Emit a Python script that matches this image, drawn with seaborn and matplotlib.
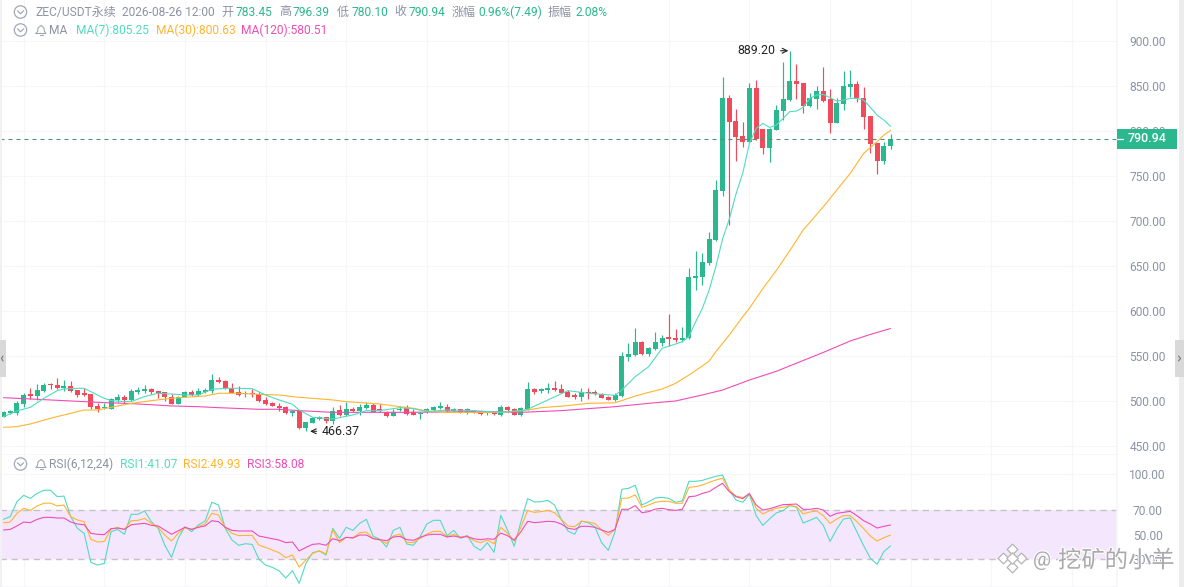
# -*- coding: utf-8 -*-
import matplotlib
matplotlib.use('Agg')
import matplotlib.pyplot as plt
import matplotlib.patheffects as pe
from matplotlib.patches import Circle, Rectangle
import numpy as np
import seaborn as sns

# Candles
opens = [482.6, 487.1, 487.1, 496.7, 507.8, 505.6, 511.2, 519.3, 517.8, 514.9, 516.7, 512.3, 508.9, 507.8, 494.5, 491.9, 491.2, 501.2, 504.9, 501.2,
         510.4, 511.5, 513.7, 511.2, 509.7, 504.1, 497.1, 504.9, 510.0, 506.3, 510.4, 511.5, 523.4, 522.3, 514.1, 509.7, 507.4, 508.9, 507.4, 501.2,
         498.2, 494.5, 493.4, 487.1, 489.3, 469.7, 476.0, 480.0, 481.9, 478.2, 490.0, 484.9, 490.8, 488.9, 492.6, 495.6, 490.8, 487.8, 483.7, 489.7,
         491.9, 488.2, 485.6, 487.4, 490.0, 492.6, 493.7, 488.9, 490.8, 488.2, 489.3, 487.8, 486.7, 487.8, 484.9, 493.4, 490.8, 484.9, 491.2, 513.4,
         511.5, 512.6, 514.5, 513.0, 510.0, 507.1, 504.9, 509.7, 510.0, 507.8, 504.9, 501.5, 505.9, 549.2, 551.1, 565.5, 552.2, 557.8, 564.8, 570.7,
         570.0, 568.1, 569.6, 637.0, 638.1, 653.7, 678.9, 733.7, 836.6, 811.1, 794.4, 788.1, 847.8, 802.2, 781.4, 801.4, 822.6, 834.4, 855.5, 853.7,
         827.7, 835.5, 844.4, 835.2, 809.2, 830.3, 849.2, 852.2, 836.6, 816.6, 786.3, 767.0, 783.45]
closes = [488.2, 488.9, 498.2, 506.7, 506.0, 512.3, 517.8, 517.4, 514.5, 516.7, 511.5, 507.1, 506.7, 493.4, 490.8, 493.4, 501.9, 504.9, 501.2, 511.2,
          512.3, 513.4, 510.4, 508.6, 504.1, 497.1, 504.1, 510.0, 507.1, 511.2, 512.3, 523.4, 521.5, 514.1, 509.3, 507.1, 508.6, 507.8, 500.4, 496.7,
          494.9, 492.6, 487.1, 488.9, 469.7, 476.3, 480.8, 482.6, 477.8, 489.3, 484.5, 490.8, 488.6, 493.7, 495.6, 488.2, 490.0, 483.7, 488.2, 491.5,
          485.2, 484.9, 487.1, 490.8, 493.4, 494.5, 488.9, 490.8, 487.8, 490.8, 487.8, 486.0, 487.8, 485.2, 493.4, 490.0, 484.9, 492.3, 513.0, 510.4,
          513.4, 514.5, 511.9, 509.3, 504.9, 504.9, 509.7, 508.6, 507.8, 503.7, 501.5, 506.7, 550.0, 552.2, 565.5, 552.2, 558.9, 565.5, 570.0, 568.9,
          567.8, 570.0, 637.8, 638.9, 654.1, 680.0, 734.4, 836.6, 810.3, 793.7, 788.1, 847.8, 790.7, 781.4, 802.2, 823.3, 835.5, 855.5, 852.2, 827.7,
          836.6, 844.4, 833.3, 809.2, 831.1, 850.0, 852.2, 836.3, 815.9, 785.5, 767.0, 783.3, 790.94]
highs = [489.0, 490.0, 500.4, 509.3, 514.1, 518.9, 520.4, 520.4, 525.6, 523.4, 521.9, 512.3, 514.5, 507.8, 498.2, 498.2, 503.0, 507.8, 507.1, 513.0,
         516.0, 517.4, 514.5, 511.5, 510.0, 507.8, 505.6, 511.5, 512.3, 514.5, 514.1, 530.0, 527.1, 523.4, 520.4, 516.7, 511.5, 513.0, 510.4, 504.1,
         498.9, 498.2, 494.5, 490.0, 490.0, 477.1, 481.9, 483.7, 482.6, 493.0, 495.6, 498.9, 493.7, 496.7, 498.9, 497.4, 496.3, 488.9, 491.5, 494.5,
         495.6, 490.8, 488.2, 492.6, 494.5, 498.6, 496.3, 492.3, 491.5, 491.9, 490.0, 488.9, 488.9, 489.3, 495.2, 494.9, 491.9, 493.7, 520.8, 514.1,
         514.1, 519.7, 522.6, 518.9, 512.3, 508.6, 514.1, 514.1, 512.3, 509.3, 506.0, 508.6, 554.8, 564.8, 581.5, 566.7, 560.4, 576.3, 573.0, 596.3,
         580.0, 582.6, 647.4, 667.0, 664.1, 688.1, 745.5, 860.0, 840.0, 824.0, 809.6, 852.9, 856.6, 802.2, 803.7, 828.9, 876.6, 889.2, 874.0, 853.7,
         842.6, 850.0, 871.5, 846.6, 836.3, 866.6, 867.7, 855.9, 848.5, 816.6, 786.3, 788.1, 796.39]
lows = [482.0, 485.6, 484.5, 493.7, 501.9, 501.2, 510.4, 513.0, 513.0, 511.5, 510.4, 504.9, 506.0, 491.2, 488.2, 491.2, 490.8, 499.3, 498.2, 500.4,
        507.8, 508.6, 507.4, 503.7, 500.4, 496.7, 496.7, 504.1, 506.0, 505.6, 509.3, 509.3, 519.7, 513.4, 508.6, 505.6, 504.9, 504.1, 498.9, 496.0,
        494.1, 489.3, 485.6, 483.4, 468.9, 466.37, 475.2, 478.9, 476.0, 474.5, 483.7, 483.7, 487.4, 484.5, 491.5, 487.4, 488.2, 482.3, 483.4, 488.9,
        484.5, 484.5, 480.4, 486.3, 488.9, 491.5, 488.2, 488.2, 487.1, 485.6, 486.3, 484.9, 484.1, 484.5, 483.7, 488.2, 484.1, 483.7, 490.0, 507.4,
        509.3, 508.6, 511.2, 508.6, 504.1, 502.6, 500.4, 501.9, 506.3, 503.0, 500.8, 500.4, 505.0, 544.8, 550.0, 551.5, 550.0, 556.7, 561.5, 561.5,
        565.9, 565.9, 568.5, 623.3, 628.9, 651.1, 677.4, 728.1, 695.5, 766.6, 781.8, 786.3, 790.0, 774.4, 765.9, 801.1, 812.2, 833.3, 835.2, 820.3,
        826.3, 824.4, 832.6, 798.1, 808.5, 823.3, 838.1, 831.8, 802.2, 775.9, 751.8, 763.3, 780.10]

# Moving averages, read at the bends of each line
ma7_idx = [0, 2, 4, 6, 8, 9, 11, 12, 13, 15, 16, 18, 19, 21, 23, 25, 27, 29, 31, 33, 35, 37, 39, 41, 43, 44,
           46, 49, 52, 54, 56, 59, 61, 63, 66, 70, 74, 77, 78, 84, 87, 91, 92, 94, 96, 98, 100, 101, 102, 103, 104, 105, 106,
           107, 108, 109, 110, 111, 112, 113, 114, 115, 116, 117, 118, 119, 120, 121, 122, 124, 125, 126, 127, 128, 129, 130, 131, 132]
ma7 = [482.6, 488.9, 493.0, 503.0, 511.5, 513.4, 514.1, 514.1, 510.4, 503.0, 500.4, 499.3, 499.3, 504.9, 508.6, 507.8, 506.7, 506.7, 513.0, 514.1, 514.1, 513.7, 506.7, 501.2, 496.3, 490.0,
       481.9, 480.0, 484.5, 489.3, 489.3, 492.6, 491.5, 488.2, 490.0, 489.3, 487.4, 488.9, 490.8, 511.5, 508.6, 506.3, 512.2, 527.0, 538.1, 558.5, 563.3, 565.9, 571.5, 588.1, 603.0, 623.3, 649.3,
       680.0, 702.0, 730.0, 753.0, 786.3, 802.9, 808.5, 804.0, 806.6, 814.0, 821.5, 822.2, 826.3, 836.3, 840.0, 840.7, 833.3, 834.4, 836.3, 836.3, 834.4, 826.3, 817.7, 812.2, 805.25]
ma30_idx = [0, 2, 4, 7, 9, 12, 14, 16, 19, 22, 25, 27, 30, 32, 35, 38, 41, 44,
            49, 51, 56, 59, 61, 63, 66, 74, 78, 80, 84, 87, 91, 94, 96, 98, 100, 102, 104, 105, 106, 108, 110, 111,
            113, 115, 117, 119, 122, 124, 126, 128, 130, 131, 132]
ma30 = [470.8, 471.5, 474.5, 480.8, 484.5, 490.0, 490.0, 493.0, 497.4, 500.4, 503.0, 504.1, 505.6, 508.6, 508.6, 507.4, 506.7, 504.1,
        501.2, 499.3, 496.7, 493.7, 491.9, 488.9, 487.4, 487.4, 490.0, 492.6, 494.9, 497.4, 498.0, 505.5, 509.6, 513.3, 519.6, 528.9, 538.9, 544.4, 554.8, 573.3, 593.7, 603.0,
        625.0, 645.0, 667.0, 690.0, 715.9, 734.4, 752.9, 775.2, 788.1, 795.5, 800.63]
ma120_idx = [0, 5, 9, 15, 18, 21, 25, 29, 32, 38, 41, 44, 49, 59, 72, 77, 83, 87, 91, 96, 100, 104, 107, 111, 115, 119, 122, 126, 129, 132]
ma120 = [503.7, 501.9, 500.4, 498.2, 497.4, 496.3, 494.5, 493.7, 492.6, 490.8, 490.8, 489.3, 487.4, 487.4, 488.2, 487.4, 489.3, 491.5, 493.7,
         497.4, 500.0, 506.7, 512.2, 523.3, 533.0, 545.0, 554.0, 566.7, 574.0, 580.51]

# RSI, one value per candle
rsi1 = [62.7, 64.9, 77.1, 82.3, 79.8, 83.9, 86.4, 86.4, 81.2, 81.7, 64.9, 55.4, 51.3, 27.6, 25.4, 26.8, 52.6, 54.5, 50.5, 66.8,
        66.8, 69.5, 60.8, 55.4, 41.7, 31.7, 47.2, 56.7, 52.6, 58.1, 61.3, 76.6, 74.4, 55.4, 45.8, 41.5, 42.8, 42.3, 30.3, 25.4,
        23.5, 20.8, 14.8, 20.8, 10.5, 26.8, 35.5, 36.9, 33.6, 55.4, 47.2, 56.2, 53.7, 59.4, 62.7, 49.1, 46.4, 40.1, 53.7, 56.2,
        42.6, 41.5, 48.6, 58.9, 61.9, 61.9, 49.4, 53.7, 47.2, 49.6, 40.9, 37.4, 43.7, 35.8, 66.0, 54.0, 40.7, 60.8, 79.6, 76.9,
        77.1, 78.2, 74.4, 62.7, 53.2, 50.5, 61.3, 60.0, 56.7, 43.7, 37.4, 52.6, 87.2, 88.0, 90.5, 74.4, 77.1, 80.1, 80.7, 79.8,
        76.6, 77.7, 93.7, 93.7, 94.5, 96.2, 97.8, 98.9, 86.6, 78.5, 76.6, 83.1, 65.7, 57.8, 63.0, 67.9, 69.8, 73.9, 72.5, 59.7,
        61.9, 64.3, 57.8, 44.7, 54.8, 63.0, 63.8, 52.4, 41.2, 30.9, 26.0, 36.3, 41.07]
rsi2 = [60.0, 60.5, 67.6, 71.7, 70.0, 73.6, 75.8, 76.0, 73.6, 74.4, 64.9, 62.2, 60.8, 46.4, 44.2, 44.7, 54.8, 55.9, 54.5, 61.6,
        61.9, 63.5, 59.4, 56.2, 49.9, 45.0, 51.3, 55.9, 54.5, 56.7, 58.9, 67.6, 66.2, 56.2, 51.3, 49.4, 49.6, 49.6, 41.7, 39.8,
        37.7, 35.5, 31.4, 33.6, 23.8, 29.5, 34.9, 37.1, 34.4, 54.0, 43.7, 48.0, 47.7, 51.8, 52.4, 47.2, 45.8, 43.1, 49.1, 50.7,
        43.9, 43.9, 47.2, 50.7, 52.9, 52.9, 48.6, 50.5, 48.0, 49.1, 45.3, 43.7, 45.8, 42.8, 56.2, 51.3, 45.0, 56.2, 70.0, 68.4,
        69.0, 70.0, 68.1, 62.7, 57.3, 56.7, 61.1, 60.5, 59.4, 54.0, 49.6, 54.5, 79.8, 80.1, 82.8, 72.5, 74.4, 76.6, 77.4, 77.4,
        75.8, 75.8, 88.8, 89.4, 90.7, 92.9, 94.8, 96.2, 86.6, 81.7, 80.4, 83.7, 71.7, 67.1, 69.8, 71.7, 72.5, 74.1, 73.0, 67.1,
        68.7, 69.5, 65.7, 59.4, 63.0, 65.7, 65.7, 60.8, 55.1, 49.1, 45.0, 47.7, 49.93]
rsi3 = [54.0, 54.5, 57.3, 60.5, 60.0, 62.7, 64.3, 64.3, 63.8, 63.8, 60.5, 58.9, 58.3, 51.3, 50.5, 50.2, 55.1, 55.6, 54.5, 58.3,
        58.9, 59.4, 57.8, 57.3, 54.0, 50.5, 53.4, 56.2, 54.5, 56.2, 57.3, 61.6, 60.8, 56.2, 53.7, 53.2, 53.2, 53.2, 49.1, 48.0,
        46.9, 45.8, 43.7, 44.2, 36.9, 39.8, 42.3, 42.8, 41.5, 46.9, 45.3, 48.0, 47.5, 49.9, 49.9, 46.9, 46.1, 45.3, 48.3, 48.8,
        46.1, 45.6, 48.0, 49.9, 50.5, 50.5, 48.3, 49.1, 48.0, 48.6, 46.9, 46.1, 46.9, 46.4, 51.5, 49.4, 45.8, 52.6, 61.1, 60.0,
        60.5, 61.1, 60.8, 58.9, 55.4, 54.5, 57.0, 57.0, 56.2, 54.0, 52.1, 54.5, 70.9, 70.9, 73.9, 68.1, 69.0, 71.1, 71.7, 70.6,
        70.0, 70.9, 81.2, 81.7, 83.9, 85.3, 88.8, 92.1, 85.3, 81.2, 79.6, 83.7, 74.4, 70.3, 71.4, 73.0, 74.7, 74.9, 75.2, 70.9,
        70.9, 71.7, 70.3, 65.2, 67.6, 68.4, 69.2, 65.7, 61.6, 58.9, 55.6, 57.0, 58.08]

price_ticks = [450, 500, 550, 600, 650, 700, 750, 800, 850, 900]
rsi_ticks = [30, 50, 70, 100]
last_price = 790.94

GREEN = '#2bb88e'
RED = '#ef4b5b'
TEAL = '#4fdcc0'
ORANGE = '#ffb52e'
PINK = '#ef4db6'
GREY = '#8d93a5'
GRID = '#f6f6f9'
LW = 0.8

sns.set_theme(style='white')
plt.rcParams['font.family'] = ['Roboto', 'Noto Sans CJK SC', 'DejaVu Sans']

W, H = 1184, 587
fig = plt.figure(figsize=(W / 100, H / 100), dpi=100, facecolor='white')
ax = fig.add_axes([0, 1 - 455 / H, 1117 / W, 455 / H])
ax2 = fig.add_axes([0, 0, 1117 / W, 132 / H])

step = 6.72
xlim = (-3.5 / step, (1117 - 3.5) / step)
grid_x = list(range(3, 166, 12))
x = np.arange(len(opens))

for a in (ax, ax2):
    a.set_facecolor('white')
    a.set_xlim(xlim)
    a.set_xticks(grid_x)
    a.set_xticklabels([])
    a.grid(True, color=GRID, linewidth=0.8)
    a.set_axisbelow(True)
    for s in a.spines.values():
        s.set_visible(False)
    a.spines['right'].set_visible(True)
    a.spines['right'].set_color(GRID)
    a.spines['bottom'].set_visible(True)
    a.spines['bottom'].set_color(GRID)
    a.yaxis.tick_right()
    a.tick_params(axis='x', length=0)
    a.tick_params(axis='y', length=0, pad=22, labelsize=8.64, labelcolor=GREY)

ax.set_ylim(440, 945.6)
ax.set_yticks(price_ticks)
ax.set_yticklabels([f'{t:.2f}' for t in price_ticks], ha='center')

# candles
colors = [GREEN if c >= o else RED for o, c in zip(opens, closes)]
ax.vlines(x, lows, highs, colors=colors, linewidth=0.85, zorder=3)
bottoms = np.minimum(opens, closes)
heights = np.maximum(np.abs(np.array(closes) - np.array(opens)), 1.1)
ax.bar(x, heights, bottom=bottoms, width=0.74, color=colors, linewidth=0, zorder=3)

sns.lineplot(x=ma120_idx, y=ma120, ax=ax, color=PINK, linewidth=LW, zorder=4, legend=False)
sns.lineplot(x=ma30_idx, y=ma30, ax=ax, color=ORANGE, linewidth=LW, zorder=4, legend=False)
sns.lineplot(x=ma7_idx, y=ma7, ax=ax, color=TEAL, linewidth=LW, zorder=4, legend=False)
ax.set_xlim(xlim)
ax.set_ylim(440, 945.6)

ax.axhline(last_price, color='#4f8f7e', linewidth=0.8, dashes=(3.6, 3.6), zorder=5)

# high / low marks
ax.annotate('889.20', xy=(117, 889.2), xytext=(-10, 0), textcoords='offset points', ha='right', va='center',
            fontsize=8.9, color='#222222', arrowprops=dict(arrowstyle='->', color='#222222', lw=0.8, shrinkA=1, shrinkB=1))
ax.annotate('466.37', xy=(45, 466.37), xytext=(11, 0), textcoords='offset points', ha='left', va='center',
            fontsize=8.9, color='#222222', arrowprops=dict(arrowstyle='->', color='#222222', lw=0.8, shrinkA=1, shrinkB=3))

# RSI pane
ax2.set_ylim(7.5, 115.2)
ax2.set_yticks(rsi_ticks)
ax2.set_yticklabels([f'{t:.2f}' for t in rsi_ticks], ha='center')
ax2.axhspan(30, 70, color='#f4e7fd', linewidth=0, zorder=1)
for lvl in (30, 70):
    ax2.axhline(lvl, color='#c6c2c6', linewidth=1.0, dashes=(4.5, 3.5), zorder=2)
sns.lineplot(x=x, y=rsi1, ax=ax2, color=TEAL, linewidth=LW, zorder=4, legend=False)
sns.lineplot(x=x, y=rsi2, ax=ax2, color=ORANGE, linewidth=LW, zorder=5, legend=False)
sns.lineplot(x=x, y=rsi3, ax=ax2, color=PINK, linewidth=LW, zorder=6, legend=False)
ax2.set_xlim(xlim)
ax2.set_ylim(7.5, 115.2)

# overlay in pixels for header, icons, price tag and watermark
ov = fig.add_axes([0, 0, 1, 1], zorder=10)
ov.set_xlim(0, W)
ov.set_ylim(H, 0)
ov.axis('off')
ov.patch.set_alpha(0)

ov.add_patch(Rectangle((1179, 0), 5, H, color='#ececec', lw=0))
ov.add_patch(Rectangle((0, 0), 2, H, color='#f1f1f1', lw=0))
for tx in (0, 1175):
    ov.add_patch(Rectangle((tx, 340), 9 if tx else 6, 37, color='#d9d9d9', lw=0))
ov.plot([3, 1.5, 3], [356, 358.5, 361], color='#777777', lw=0.8)
ov.plot([1178.5, 1180.5, 1178.5], [356, 358.5, 361], color='#777777', lw=0.8)


def put(px, py, s, color=GREY, size=8.64, **kw):
    ov.text(px, py, s, color=color, fontsize=size, va='center', ha=kw.pop('ha', 'left'), **kw)


# first row
put(35, 12, 'ZEC/USDT永续')
put(122, 12, '2026-08-26 12:00')
for px, s in [(221, '开'), (279, '高'), (337, '低'), (394, '收'), (452, '涨幅'), (548, '振幅')]:
    put(px, 12, s)
for px, s in [(235.5, '783.45'), (293, '796.39'), (352, '780.10'), (409, '790.94'), (478, '0.96%(7.49)'), (575, '2.08%')]:
    put(px, 12, s, color=GREEN)

# second row
put(49, 30, 'MA')
put(76, 30, 'MA(7):805.25', color=TEAL)
put(156, 30, 'MA(30):800.63', color=ORANGE)
put(241, 30, 'MA(120):580.51', color=PINK)

# rsi row
put(49, 464, 'RSI(6,12,24)')
put(120, 464, 'RSI1:41.07', color=TEAL)
put(183, 464, 'RSI2:49.93', color=ORANGE)
put(247, 464, 'RSI3:58.08', color=PINK)

# collapse and bell icons
for cy in (12, 30, 464):
    ov.add_patch(Circle((20.5, cy), 6.2, fill=False, ec='#a3a7b5', lw=0.9))
    ov.plot([17.5, 20.5, 23.5], [cy - 1.2, cy + 1.8, cy - 1.2], color='#a3a7b5', lw=0.9)
for cy in (30, 464):
    ov.plot([36, 37.5, 38, 41, 44, 44.5, 46, 36], [cy + 3.5, cy + 1.5, cy - 2, cy - 4.5, cy - 2, cy + 1.5, cy + 3.5, cy + 3.5],
            color='#a3a7b5', lw=0.8)
    ov.plot([39.5, 42.5], [cy + 5, cy + 5], color='#a3a7b5', lw=0.8)

# last price tag
ov.add_patch(Rectangle((1117, 129), 60, 20, color=GREEN, lw=0, zorder=6))
ov.plot([1117, 1123], [139, 139], color='white', lw=0.9, zorder=7)
ov.text(1147, 139, '790.94', color='white', fontsize=9, fontweight='medium', ha='center', va='center', zorder=7)

# watermark
halo = [pe.withStroke(linewidth=1.6, foreground='white')]
ov.text(1058, 561, '挖矿的小羊', color='#a2a2a2', alpha=0.9, fontsize=16.8, va='center', ha='left', zorder=8, path_effects=halo)
ov.text(1042, 560, '@', color='#a2a2a2', alpha=0.9, fontsize=14.5, va='center', ha='center', zorder=8, path_effects=halo)
for dx, dy, sz in [(1003, 558, 30), (1021, 558, 30), (1012, 549, 30), (1012, 567, 30), (1012, 558, 34)]:
    ov.scatter([dx], [dy], marker='D', s=sz, color='white', edgecolors='#b4b4b4', linewidths=0.9, zorder=8)

fig.savefig('out.png', dpi=100)
